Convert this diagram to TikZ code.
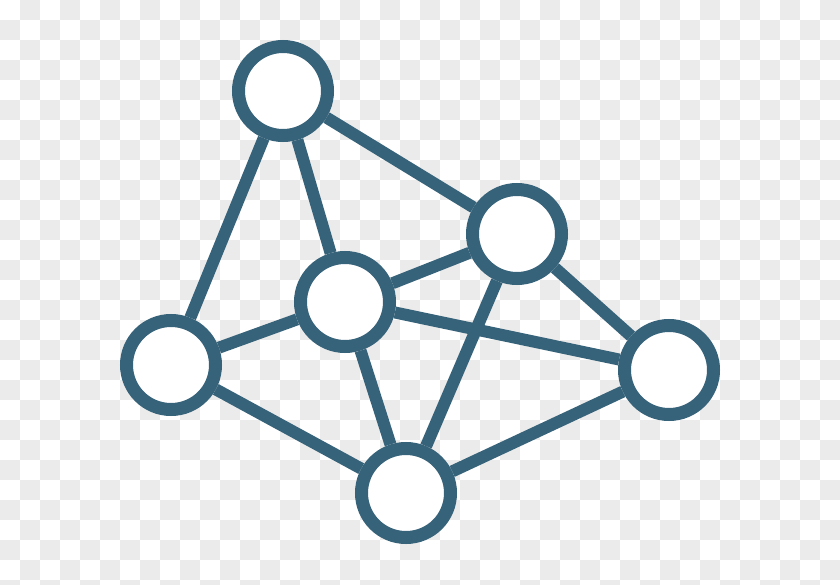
\documentclass[tikz,border=0pt]{standalone}
\usepackage{tikz}

\definecolor{netblue}{HTML}{37637A}
\definecolor{checkgray}{HTML}{EBEBEB}

\begin{document}
\begin{tikzpicture}[x=1pt, y=-1pt]
    		\tikzstyle{netnode} = [circle, draw=netblue, line width=13pt, minimum size=89pt, inner sep=0pt, fill=white]
    		\tikzstyle{netlink} = [draw=netblue, line width=12pt]
    		\useasboundingbox (0,0) rectangle (840,585);
    		\clip (0,0) rectangle (840,585);
    		\fill[white] (0,0) rectangle (840,585);
		\foreach \j in {0,...,29}
		\foreach \i in {1,3,...,41}
    		{
        		\pgfmathsetmacro{\xs}{(\i-mod(\j,2))*20}
        		\fill[checkgray] (\xs,\j*20) rectangle ++(20,20);
    		}
    		\node[netnode] (top) at (283,91) {};
    		\node[netnode] (upright) at (517,234) {};
    		\node[netnode] (mid) at (345,302) {};
    		\node[netnode] (left) at (171,365) {};
    		\node[netnode] (right) at (669,370) {};
    		\node[netnode] (bottom) at (406,493) {};
		\foreach \from/\to in {top/left, top/mid, top/upright, upright/mid, upright/bottom, upright/right, mid/left, mid/right, mid/bottom, left/bottom, bottom/right}
    		{
       		\draw[netlink] (\from) -- (\to);
    		}
		\end{tikzpicture}
\end{document}
